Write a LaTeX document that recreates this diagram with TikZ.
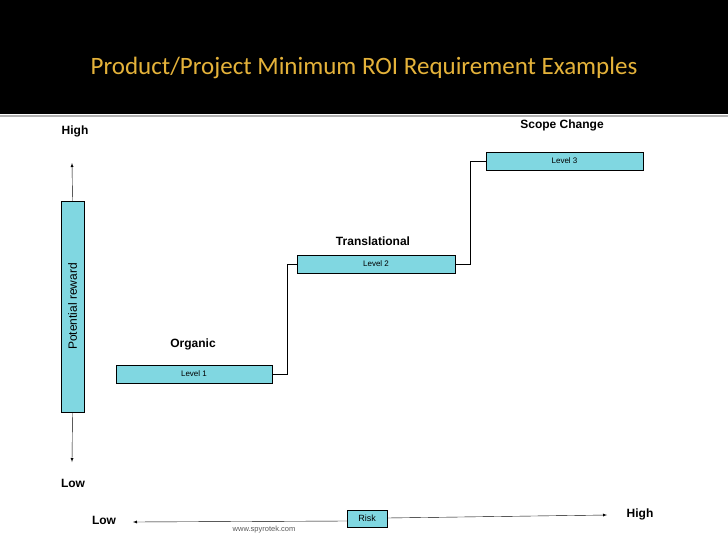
\documentclass[tikz,border=0pt]{standalone}
\usepackage{fontspec}
\setmainfont{Liberation Sans}
\newfontfamily\titlefont{Carlito}
\definecolor{boxc}{RGB}{128,215,225}
\definecolor{gold}{RGB}{228,178,58}
\begin{document}
\begin{tikzpicture}[x=1pt,y=-1pt,
  lvl/.style={draw,fill=boxc,minimum height=18pt,inner sep=0pt,font=\fontsize{8}{9}\selectfont},
  lab/.style={font=\bfseries\fontsize{12}{14}\selectfont},
  arr/.style={-latex,thin}]
\useasboundingbox (0,0) rectangle (728,546);
\fill[black] (0,0) rectangle (728,114);
\draw[gray!60,line width=1.5pt] (0,116) -- (728,116);
\node[text=gold,font=\titlefont\fontsize{25}{28}\selectfont] (title) at (364,68) {Product/Project Minimum ROI Requirement Examples};
\node[lab] (hi) at (75,131) {High};
\node[lab] (lo) at (73,483) {Low};
\node[draw,fill=boxc,minimum width=23pt,minimum height=211pt,inner sep=0pt] (pr) at (72.5,306.5) {};
\node[rotate=90,font=\fontsize{12}{14}\selectfont] (prt) at (72.5,306.5) {Potential reward};
\coordinate (pt) at (72,163);
\coordinate (pb) at (72,462);
\draw[arr] (pr.north) -- (pt);
\draw[arr] (pr.south) -- (pb);
\node[lvl,minimum width=156pt] (l1) at (194,374) {Level 1};
\node[lvl,minimum width=158pt] (l2) at (376,264) {Level 2};
\node[lvl,minimum width=157pt] (l3) at (564.5,161) {Level 3};
\node[lab] (o) at (193,344) {Organic};
\node[lab] (t) at (373,241) {Translational};
\node[lab] (s) at (562,125) {Scope Change};
\draw (l1.east) -- ++(15,0) |- (l2.west);
\draw (l2.east) -- ++(15,0) |- (l3.west);
\node[draw,fill=boxc,minimum width=40pt,minimum height=17pt,inner sep=0pt,font=\fontsize{9}{10}\selectfont] (risk) at (367,518.5) {Risk};
\coordinate (rl) at (133,522);
\coordinate (rr) at (607,515);
\draw[arr] (risk.west |- 0,521) -- (rl);
\draw[arr] (risk.east |- 0,518) -- (rr);
\node[lab] (rlo) at (104,520) {Low};
\node[lab] (rhi) at (640,514) {High};
\node[text=gray!70!black,font=\fontsize{7.5}{9}\selectfont] (url) at (264,530) {www.spyrotek.com};
\end{tikzpicture}
\end{document}
